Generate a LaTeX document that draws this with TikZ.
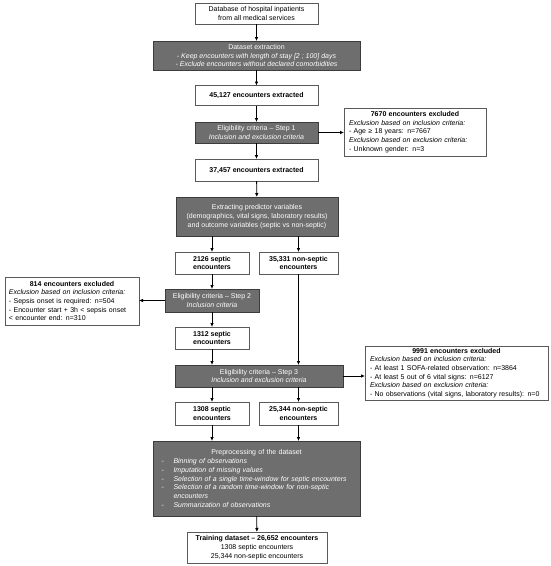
\documentclass[tikz,border=0pt]{standalone}
\usepackage{fontspec}
\setmainfont{Liberation Sans}
\usetikzlibrary{arrows.meta,calc}
\definecolor{gfill}{RGB}{110,110,110}
\definecolor{gdraw}{RGB}{60,60,60}
\definecolor{wdraw}{RGB}{90,90,90}
\begin{document}
\begin{tikzpicture}[x=1pt,y=-1pt,
  base/.style={inner sep=0pt,outer sep=0pt,align=center,font=\fontsize{7}{8.7}\selectfont},
  wbox/.style={base,draw=wdraw,fill=white,line width=0.7pt,font=\fontsize{7}{8.7}\selectfont\bfseries},
  gbox/.style={base,draw=gdraw,fill=gfill,line width=0.9pt,text=white},
  ebox/.style={base,draw=wdraw,fill=white,line width=0.7pt,align=left,inner xsep=5pt},
  arr/.style={line width=0.8pt,-{Latex[length=4pt,width=3.6pt]}}]
\useasboundingbox (0,0) rectangle (550,566);

\node[wbox,font=\fontsize{7}{8.7}\selectfont,minimum width=123pt,minimum height=21pt] (n1) at (256.5,13.5) {Database of hospital inpatients\\from all medical services};
\node[gbox,minimum width=207pt,minimum height=29pt] (n2) at (256.5,55.5) {Dataset extraction\\\textit{- Keep encounters with length of stay [2 ; 100] days}\\\textit{- Exclude encounters without declared comorbidities}};
\node[wbox,minimum width=123pt,minimum height=20pt] (n3) at (256.5,95.5) {45,127 encounters extracted};
\node[gbox,minimum width=123pt,minimum height=21pt] (n4) at (256.5,132.5) {Eligibility criteria -- Step 1\\\textit{Inclusion and exclusion criteria}};
\node[wbox,minimum width=123pt,minimum height=22pt] (n5) at (256.5,170) {37,457 encounters extracted};
\node[gbox,minimum width=162pt,minimum height=39pt] (n6) at (257,216.5) {Extracting predictor variables\\(demographics, vital signs, laboratory results)\\and outcome variables (septic vs non-septic)};
\node[wbox,minimum width=74pt,minimum height=22pt] (n7) at (212,263) {2126 septic\\encounters};
\node[wbox,minimum width=79pt,minimum height=22pt] (n8) at (298.5,263) {35,331 non-septic\\encounters};
\node[gbox,minimum width=94pt,minimum height=23pt] (n9) at (212,300.5) {Eligibility criteria -- Step 2\\\textit{Inclusion criteria}};
\node[wbox,minimum width=74pt,minimum height=22pt] (n10) at (212,338) {1312 septic\\encounters};
\node[gbox,minimum width=168pt,minimum height=22pt] (n11) at (259,376) {Eligibility criteria -- Step 3\\\textit{Inclusion and exclusion criteria}};
\node[wbox,minimum width=74pt,minimum height=23pt] (n12) at (212,413.5) {1308 septic\\encounters};
\node[wbox,minimum width=79pt,minimum height=23pt] (n13) at (298.5,413.5) {25,344 non-septic\\encounters};
\node[gbox,align=left,text width=190pt,inner xsep=8.5pt,minimum height=75pt] (n14) at (256.5,478.5) {\makebox[190pt][c]{Preprocessing of the dataset}\\
\makebox[12pt][l]{-}\textit{Binning of observations}\\
\makebox[12pt][l]{-}\textit{Imputation of missing values}\\
\makebox[12pt][l]{-}\textit{Selection of a single time-window for septic encounters}\\
\makebox[12pt][l]{-}\textit{Selection of a random time-window for non-septic}\\
\hspace*{12pt}\textit{encounters}\\
\makebox[12pt][l]{-}\textit{Summarization of observations}};
\node[wbox,font=\fontsize{7}{8.7}\selectfont,minimum width=140pt,minimum height=31pt] (n15) at (257,547.5) {\textbf{Training dataset -- 26,652 encounters}\\1308 septic encounters\\25,344 non-septic encounters};

\node[ebox,text width=132pt,minimum height=48pt] (e1) at (415,132) {\makebox[132pt][c]{\bfseries 7670 encounters excluded}\\
\textit{Exclusion based on inclusion criteria:}\\
- Age ≥ 18 years: n=7667\\
\textit{Exclusion based on exclusion criteria:}\\
- Unknown gender: n=3};
\node[ebox,text width=126pt,inner xsep=4pt,minimum height=48pt] (e2) at (72,301) {\makebox[126pt][c]{\bfseries 814 encounters excluded}\\
\textit{Exclusion based on inclusion criteria:}\\
- Sepsis onset is required: n=504\\
- Encounter start + 3h < sepsis onset\\
< encounter end: n=310};
\node[ebox,text width=173pt,minimum height=54pt] (e3) at (456.5,373) {\makebox[173pt][c]{\bfseries 9991 encounters excluded}\\
\textit{Exclusion based on inclusion criteria:}\\
- At least 1 SOFA-related observation: n=3864\\
- At least 5 out of 6 vital signs: n=6127\\
\textit{Exclusion based on exclusion criteria:}\\
- No observations (vital signs, laboratory results): n=0};

\draw[arr] (n1) -- (n2);
\draw[arr] (n2) -- (n3);
\draw[arr] (n3) -- (n4);
\draw[arr] (n4) -- (n5);
\draw[arr] (n5) -- (n6);
\draw[arr] (n4.east) -- (n4.east -| e1.west);
\draw[arr] (n7.north |- n6.south) -- (n7.north);
\draw[arr] (n8.north |- n6.south) -- (n8.north);
\draw[arr] (n7) -- (n9);
\draw[arr] (n9.west) -- (n9.west -| e2.east);
\draw[arr] (n9) -- (n10);
\draw[arr] (n10.south) -- (n10.south |- n11.north);
\draw[arr] (n8.south) -- (n8.south |- n11.north);
\draw[arr] (n11.east) -- (n11.east -| e3.west);
\draw[arr] (n12.north |- n11.south) -- (n12.north);
\draw[arr] (n13.north |- n11.south) -- (n13.north);
\draw[arr] (n12.south) -- (n12.south |- n14.north);
\draw[arr] (n13.south) -- (n13.south |- n14.north);
\draw[arr] (n14) -- (n15);
\end{tikzpicture}
\end{document}
